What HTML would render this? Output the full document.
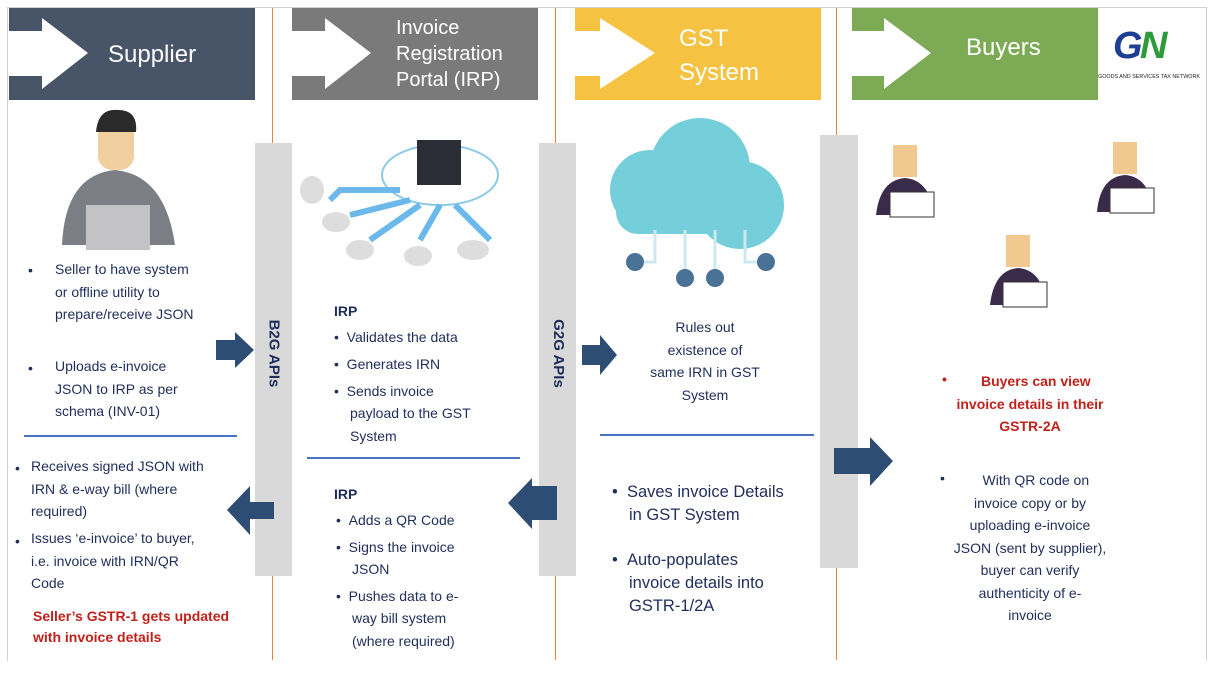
<!DOCTYPE html>
<html><head><meta charset="utf-8"><style>
body{margin:0;width:1216px;height:698px;background:#fff;position:relative;overflow:hidden;font-family:"Liberation Sans",sans-serif;color:#1f2d5a}
.a{position:absolute}
.hdr{position:absolute;top:8px;height:92px;color:#fff;font-size:23px;line-height:26px}
.t{position:absolute;font-size:14px;line-height:22.5px}
.b{position:absolute;font-size:14px}
.vl{position:absolute;width:1px;background:#e8823a}
.bar{position:absolute;background:#d9d9d9}
.hl{position:absolute;height:2px;background:#4a72c4}
.red{color:#c0221b;font-weight:bold}
.vt{position:absolute;transform:rotate(90deg);font-weight:bold;font-size:15px;color:#1f2d5a;white-space:nowrap}
</style></head><body>
<div class="a" style="left:7px;top:7px;width:1198px;height:653px;border:1px solid #d0d0d0;border-bottom:none"></div>
<div class="hdr" style="left:9px;width:246px;background:#485467"></div>
<div class="hdr" style="left:292px;width:246px;background:#7a7a7a"></div>
<div class="hdr" style="left:575px;width:246px;background:#f5c242"></div>
<div class="hdr" style="left:852px;width:246px;background:#7daa55"></div>
<div class="vl" style="left:272px;top:8px;height:652px"></div>
<div class="vl" style="left:555px;top:8px;height:652px"></div>
<div class="vl" style="left:836px;top:8px;height:652px"></div>
<div class="bar" style="left:255px;top:143px;width:37px;height:433px"></div>
<div class="bar" style="left:539px;top:143px;width:37px;height:433px"></div>
<div class="bar" style="left:820px;top:135px;width:38px;height:433px"></div>
<svg class="a" style="left:0;top:0" width="1216" height="698">
<g fill="#fff">
<polygon points="9,31 42,31 42,18 88,53 42,89 42,76 9,76"/>
<polygon points="292,31 325,31 325,18 371,53 325,89 325,76 292,76"/>
<polygon points="575,31 600,31 600,18 655,53 600,89 600,76 575,76"/>
<polygon points="852,31 884,31 884,18 931,53 884,89 884,76 852,76"/>
</g>
<g fill="#2e4d74">
<polygon points="216,340 235,340 235,332 254,350 235,368 235,360 216,360"/>
<polygon points="582,345 600,345 600,335 617,355 600,375 600,365 582,365"/>
<polygon points="834,448 870,448 870,437 893,461 870,486 870,474 834,474"/>
<polygon points="274,502 250,502 250,486 227,510 250,535 250,519 274,519"/>
<polygon points="557,486 532,486 532,478 508,503 532,529 532,520 557,520"/>
</g>
<g fill="#75cfdb">
<circle cx="650" cy="190" r="40"/><circle cx="700" cy="168" r="50"/><circle cx="740" cy="205" r="44"/>
<rect x="616" y="190" width="163" height="44" rx="22"/>
</g>
<g stroke="#cce9ef" stroke-width="3" fill="none">
<path d="M655 230 V262 H635"/><path d="M685 230 V275"/><path d="M715 230 V275"/><path d="M745 230 V262 H765"/>
</g>
<g fill="#4a7296"><circle cx="635" cy="262" r="9"/><circle cx="685" cy="278" r="9"/><circle cx="715" cy="278" r="9"/><circle cx="766" cy="262" r="9"/></g>
<path d="M62 245 Q65 175 115 170 Q165 175 175 245 Z" fill="#7b7e84"/>
<rect x="98" y="120" width="36" height="50" rx="14" fill="#f2cf9e"/>
<path d="M96 132 Q98 108 118 110 Q138 110 136 132 Z" fill="#2a2a2a"/>
<rect x="86" y="205" width="64" height="45" fill="#c3c3c5"/>
<ellipse cx="440" cy="175" rx="58" ry="30" fill="#fff" stroke="#8ccbe8" stroke-width="2"/>
<rect x="417" y="140" width="44" height="45" fill="#2b2e36"/>
<g stroke="#6cb8ea" stroke-width="6" fill="none">
<path d="M400 190 L340 190 L330 200"/><path d="M410 200 L350 215"/><path d="M420 205 L370 240"/><path d="M440 205 L420 240"/><path d="M455 205 L490 240"/>
</g>
<g fill="#ddd"><ellipse cx="312" cy="190" rx="12" ry="14"/><ellipse cx="336" cy="222" rx="14" ry="10"/><ellipse cx="360" cy="250" rx="14" ry="10"/><ellipse cx="418" cy="256" rx="14" ry="10"/><ellipse cx="473" cy="250" rx="16" ry="10"/></g>
<g>
<path d="M876 215 Q880 180 905 178 Q930 180 934 215 Z" fill="#3b2b4a"/><rect x="893" y="145" width="24" height="32" fill="#f0c890"/><rect x="890" y="192" width="44" height="25" fill="#fff" stroke="#333"/>
<path d="M1097 212 Q1100 177 1125 175 Q1150 177 1153 212 Z" fill="#3b2b4a"/><rect x="1113" y="142" width="24" height="32" fill="#f0c890"/><rect x="1110" y="188" width="44" height="25" fill="#fff" stroke="#333"/>
<path d="M990 305 Q994 270 1018 268 Q1043 270 1046 305 Z" fill="#3b2b4a"/><rect x="1006" y="235" width="24" height="32" fill="#f0c890"/><rect x="1003" y="282" width="44" height="25" fill="#fff" stroke="#333"/>
</g>
<text x="1113" y="58" font-family="Liberation Sans" font-weight="bold" font-style="italic" font-size="38" fill="#1c3f94">G</text>
<text x="1140" y="58" font-family="Liberation Sans" font-weight="bold" font-style="italic" font-size="38" fill="#2f9a3a">N</text>
<text x="1098" y="78" font-family="Liberation Sans" font-size="5.5" fill="#222" textLength="102" lengthAdjust="spacingAndGlyphs">GOODS AND SERVICES TAX NETWORK</text>
</svg>
<div class="hdr" style="left:108px;top:42px;font-size:24px">Supplier</div>
<div class="hdr" style="left:396px;top:15px;font-size:20px">Invoice<br>Registration<br>Portal (IRP)</div>
<div class="hdr" style="left:679px;top:22px;font-size:24px;line-height:34px">GST<br>System</div>
<div class="hdr" style="left:966px;top:35px;font-size:24px">Buyers</div>
<div class="vt" style="left:240px;top:345px">B2G APIs</div>
<div class="vt" style="left:524px;top:345px">G2G APIs</div>
<div class="hl" style="left:24px;top:435px;width:213px"></div>
<div class="hl" style="left:307px;top:457px;width:213px"></div>
<div class="hl" style="left:600px;top:434px;width:214px"></div>
<div class="b" style="left:28px;top:262px">•</div>
<div class="t" style="left:55px;top:258px">Seller to have system<br>or offline utility to<br>prepare/receive JSON</div>
<div class="b" style="left:28px;top:360px">•</div>
<div class="t" style="left:55px;top:355px">Uploads e-invoice<br>JSON to IRP as per<br>schema (INV-01)</div>
<div class="b" style="left:15px;top:460px">•</div>
<div class="t" style="left:31px;top:455px">Receives signed JSON with<br>IRN &amp; e-way bill (where<br>required)</div>
<div class="b" style="left:15px;top:533px">•</div>
<div class="t" style="left:31px;top:527px">Issues ‘e-invoice’ to buyer,<br>i.e. invoice with IRN/QR<br>Code</div>
<div class="t red" style="left:33px;top:606px;line-height:21px">Seller’s GSTR-1 gets updated<br>with invoice details</div>
<div class="t" style="left:334px;top:300px;font-weight:bold">IRP</div>
<div class="t" style="left:334px;top:326px">•&nbsp;&nbsp;Validates the data</div>
<div class="t" style="left:334px;top:353px">•&nbsp;&nbsp;Generates IRN</div>
<div class="t" style="left:334px;top:380px">•&nbsp;&nbsp;Sends invoice</div>
<div class="t" style="left:350px;top:402px">payload to the GST<br>System</div>
<div class="t" style="left:334px;top:483px;font-weight:bold">IRP</div>
<div class="t" style="left:336px;top:509px">•&nbsp;&nbsp;Adds a QR Code</div>
<div class="t" style="left:336px;top:536px">•&nbsp;&nbsp;Signs the invoice</div>
<div class="t" style="left:352px;top:558px">JSON</div>
<div class="t" style="left:336px;top:585px">•&nbsp;&nbsp;Pushes data to e-</div>
<div class="t" style="left:352px;top:607px">way bill system<br>(where required)</div>
<div class="t" style="left:620px;top:316px;width:170px;text-align:center">Rules out<br>existence of<br>same IRN in GST<br>System</div>
<div class="t" style="left:612px;top:481px;font-size:16.5px;line-height:22.5px">•&nbsp;&nbsp;Saves invoice Details</div>
<div class="t" style="left:629px;top:504px;font-size:16.5px">in GST System</div>
<div class="t" style="left:612px;top:549px;font-size:16.5px">•&nbsp;&nbsp;Auto-populates</div>
<div class="t" style="left:629px;top:572px;font-size:16.5px;line-height:22.5px">invoice details into<br>GSTR-1/2A</div>
<div class="b red" style="left:942px;top:371px">•</div>
<div class="t red" style="left:930px;top:370px;width:200px;text-align:center">&nbsp;&nbsp;&nbsp;Buyers can view<br>invoice details in their<br>GSTR-2A</div>
<div class="b" style="left:940px;top:470px">•</div>
<div class="t" style="left:930px;top:469px;width:200px;text-align:center">&nbsp;&nbsp;&nbsp;With QR code on<br>invoice copy or by<br>uploading e-invoice<br>JSON (sent by supplier),<br>buyer can verify<br>authenticity of e-<br>invoice</div>
</body></html>
